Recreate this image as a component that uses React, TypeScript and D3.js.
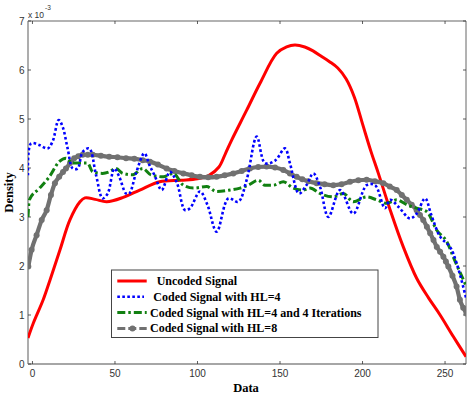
import React from "react";
import * as d3 from "d3";

const xTicks = [0, 50, 100, 150, 200, 250];
const yTicks = [0, 1, 2, 3, 4, 5, 6, 7];
const legendLabels = [
  "Uncoded Signal",
  "Coded Signal with HL=4",
  "Coded Signal with HL=4 and 4 Iterations",
  "Coded Signal with HL=8",
];

const redX = [-2.7, 0.5, 6.5, 10.6, 16.7, 22.7, 28.8, 31.8, 38, 45, 55, 65, 77, 90, 100, 107, 113, 117, 120.7, 129.8, 137.9, 148, 154, 159, 165, 170, 175, 180, 185, 190, 195, 200, 205, 209.6, 216.7, 224.7, 232.8, 240, 247, 255, 262.7];
const redY = [0.53, 0.83, 1.31, 1.71, 2.33, 2.94, 3.31, 3.39, 3.36, 3.31, 3.4, 3.55, 3.72, 3.75, 3.78, 3.85, 4.02, 4.3, 4.57, 5.18, 5.73, 6.34, 6.47, 6.51, 6.47, 6.39, 6.28, 6.17, 6.04, 5.82, 5.45, 4.9, 4.35, 3.89, 3.15, 2.39, 1.75, 1.35, 1.0, 0.56, 0.15];

const blueX = [-2.7, -0.9, 4.1, 9.2, 12.2, 15.9, 18.3, 21.3, 24.4, 27.4, 30.4, 34.4, 38.5, 42.5, 45.6, 49.6, 52.6, 56.7, 58.7, 62.7, 67.8, 71, 74, 78.3, 83.3, 87.5, 92.4, 95.5, 101.5, 106, 111.6, 118.7, 124.7, 129.8, 135.9, 140.9, 147, 153, 156, 161.5, 166, 170.2, 174.2, 179.3, 186.4, 194.4, 202.5, 207.6, 213.6, 216.7, 222, 228.8, 232.8, 237.9, 241.7, 247, 253, 257, 262.7];
const blueY = [3.85, 4.5, 4.47, 4.4, 4.54, 4.98, 4.84, 4.4, 3.99, 3.99, 4.33, 4.4, 3.86, 3.38, 3.48, 3.99, 3.82, 3.48, 3.48, 3.89, 4.3, 4.05, 3.85, 3.55, 3.92, 3.7, 3.14, 3.18, 3.52, 3.25, 2.7, 3.38, 3.31, 3.76, 4.64, 4.1, 4.15, 4.4, 4.1, 3.48, 3.65, 3.89, 3.62, 3.0, 3.55, 3.07, 3.65, 3.65, 3.18, 3.35, 3.2, 2.97, 3.07, 3.38, 3.04, 2.6, 2.39, 2.06, 1.35];

const greenX = [-2.7, -1.9, 4.1, 10.2, 16.2, 20.3, 24.4, 28.4, 33.4, 36.5, 42.5, 46.5, 50.6, 54.7, 60.7, 66.8, 71.8, 79.3, 85.3, 91.4, 97.5, 105.6, 111.6, 119.7, 125.8, 130.8, 136.8, 140.9, 146, 152, 158, 164.1, 168.2, 174.2, 182.3, 188.4, 194.4, 202.5, 208.6, 214.7, 220.7, 226.8, 232.8, 238.9, 245, 251, 255.8, 262.7];
const greenY = [3.0, 3.35, 3.58, 3.82, 4.13, 4.2, 4.1, 4.1, 4.1, 3.92, 3.89, 3.92, 3.99, 3.89, 3.86, 3.99, 3.86, 3.82, 3.89, 3.65, 3.59, 3.62, 3.52, 3.55, 3.59, 3.65, 3.75, 3.65, 3.65, 3.72, 3.59, 3.55, 3.59, 3.48, 3.41, 3.48, 3.31, 3.41, 3.35, 3.28, 3.35, 3.25, 3.18, 3.11, 2.73, 2.5, 2.12, 1.6];

const grayX = [-2.5, -0.5, 2.5, 5.6, 8.6, 11.2, 13.6, 16.2, 18.5, 20.3, 22.8, 25.3, 27.8, 30.4, 33.5, 36.5, 41.5, 46.5, 51.5, 56.7, 61.7, 66.8, 71.2, 76, 81.3, 86, 91.4, 96.5, 101.5, 106.5, 111.6, 116.5, 121.7, 126.8, 131.8, 136.8, 141.9, 147, 152, 156, 160.1, 163.5, 167.2, 172.2, 177, 182.3, 187.3, 192.4, 197.5, 202.5, 207.5, 212.6, 216.5, 220.7, 223.8, 226.8, 229.8, 232.8, 234.8, 236.8, 239, 241, 243, 245, 247, 249, 250.5, 252, 254.5, 257, 259, 261, 263];
const grayY = [1.99, 2.33, 2.63, 2.94, 3.14, 3.45, 3.69, 3.82, 3.92, 3.99, 4.1, 4.2, 4.24, 4.27, 4.27, 4.27, 4.25, 4.23, 4.22, 4.2, 4.19, 4.16, 4.13, 4.07, 3.99, 3.94, 3.89, 3.85, 3.82, 3.81, 3.82, 3.85, 3.89, 3.94, 3.99, 4.02, 4.03, 4.01, 3.96, 3.89, 3.82, 3.77, 3.73, 3.69, 3.67, 3.65, 3.67, 3.72, 3.75, 3.76, 3.73, 3.69, 3.62, 3.55, 3.45, 3.35, 3.25, 3.14, 3.04, 2.94, 2.8, 2.67, 2.53, 2.39, 2.29, 2.19, 2.09, 1.99, 1.8, 1.58, 1.31, 1.15, 1.03];

const W = 474;
const H = 397;

export default function App() {
  const x = d3.scaleLinear().domain([-2.7, 262.7]).range([28, 466]);
  const y = d3.scaleLinear().domain([0, 7]).range([364, 21]);

  const mk = (xs: number[], ys: number[], curve: any) =>
    d3
      .line<number>()
      .x((_, i) => x(xs[i]))
      .y((v) => y(v))
      .curve(curve)(ys) || "";

  const redPath = mk(redX, redY, d3.curveCatmullRom.alpha(0.5));
  const bluePath = mk(blueX, blueY, d3.curveCatmullRom.alpha(0.5));
  const greenPath = mk(greenX, greenY, d3.curveMonotoneX);
  const grayPath = mk(grayX, grayY, d3.curveMonotoneX);

  const x0 = x.range()[0];
  const x1 = x.range()[1];
  const y0 = y.range()[0];
  const y1 = y.range()[1];

  const tickFont = "Liberation Sans, Arial, sans-serif";
  const serif = "Liberation Serif, Times New Roman, serif";

  const legRows = [281, 296.8, 312.6, 328.4];
  const legTextX = [156.7, 153.3, 150, 150];

  return (
    <svg width={W} height={H} style={{ position: "absolute", left: 0, top: 0 }}>
      <rect x={0} y={0} width={W} height={H} fill="#fff" />
      <defs>
        <clipPath id="plotclip">
          <rect x={x0} y={y1} width={x1 - x0} height={y0 - y1} />
        </clipPath>
      </defs>

      {/* axes box */}
      <line x1={x0} x2={x1} y1={y1} y2={y1} stroke="#999" strokeWidth={1.6} />
      <line x1={x0} x2={x1} y1={y0} y2={y0} stroke="#888" strokeWidth={1.6} />
      <line x1={x0} x2={x0} y1={y1} y2={y0} stroke="#999" strokeWidth={1.6} />
      <line x1={x1} x2={x1} y1={y1} y2={y0} stroke="#666" strokeWidth={1} />

      {/* ticks */}
      {xTicks.map((t) => (
        <g key={"xt" + t}>
          <line x1={x(t)} x2={x(t)} y1={y0} y2={y0 - 3} stroke="#333" strokeWidth={0.8} />
          <line x1={x(t)} x2={x(t)} y1={y1} y2={y1 + 3} stroke="#333" strokeWidth={0.8} />
          <text x={x(t)} y={377} textAnchor="middle" fontFamily={tickFont} fontSize={10} fill="#333">
            {t}
          </text>
        </g>
      ))}
      {yTicks.map((t) => (
        <g key={"yt" + t}>
          <line x1={x0} x2={x0 + 3} y1={y(t)} y2={y(t)} stroke="#333" strokeWidth={0.8} />
          <line x1={x1} x2={x1 - 3} y1={y(t)} y2={y(t)} stroke="#333" strokeWidth={0.8} />
          <text x={24.5} y={y(t) + 3.6} textAnchor="end" fontFamily={tickFont} fontSize={10} fill="#333">
            {t}
          </text>
        </g>
      ))}

      {/* exponent */}
      <text x={28} y={17.5} fontFamily={tickFont} fontSize={8.5} fill="#333">
        x 10
      </text>
      <text x={45} y={10} fontFamily={tickFont} fontSize={6.5} fill="#333">
        -3
      </text>

      {/* series */}
      <g clipPath="url(#plotclip)">
        <path d={redPath} fill="none" stroke="#ff0000" strokeWidth={3} />
        <path d={grayPath} fill="none" stroke="#717171" strokeWidth={4.2} />
        {grayX.map((v, i) => (
          <circle key={"gm" + i} cx={x(v)} cy={y(grayY[i])} r={3} fill="#717171" />
        ))}
        <path d={greenPath} fill="none" stroke="#118011" strokeWidth={3} strokeDasharray="8,3,2.5,3" />
        <path d={bluePath} fill="none" stroke="#0000ff" strokeWidth={2.6} strokeDasharray="2.6,2.4" />
      </g>

      {/* axis labels */}
      <text x={246} y={391.5} textAnchor="middle" fontFamily={serif} fontWeight="bold" fontSize={12.5} fill="#000">
        Data
      </text>
      <text
        transform={`translate(13,${(y0 + y1) / 2}) rotate(-90)`}
        textAnchor="middle"
        fontFamily={serif}
        fontWeight="bold"
        fontSize={12.5}
        fill="#000"
      >
        Density
      </text>

      {/* legend */}
      <rect x={111.5} y={270} width={266.5} height={67.5} fill="#fff" stroke="#444" strokeWidth={1} />
      <line x1={117.3} x2={146.7} y1={legRows[0]} y2={legRows[0]} stroke="#ff0000" strokeWidth={3} />
      <line x1={117.3} x2={144} y1={legRows[1]} y2={legRows[1]} stroke="#0000ff" strokeWidth={2.6} strokeDasharray="2.6,2.4" />
      <line x1={117.3} x2={146.7} y1={legRows[2]} y2={legRows[2]} stroke="#118011" strokeWidth={3} strokeDasharray="8,3,2.5,3" />
      <line x1={117.3} x2={146.7} y1={legRows[3]} y2={legRows[3]} stroke="#717171" strokeWidth={3} strokeDasharray="8,3" />
      <circle cx={132.5} cy={legRows[3]} r={3} fill="#717171" />
      {legendLabels.map((s, i) => (
        <text key={s} x={legTextX[i]} y={legRows[i] + 4} fontFamily={serif} fontWeight="bold" fontSize={12} fill="#000">
          {s}
        </text>
      ))}
    </svg>
  );
}
